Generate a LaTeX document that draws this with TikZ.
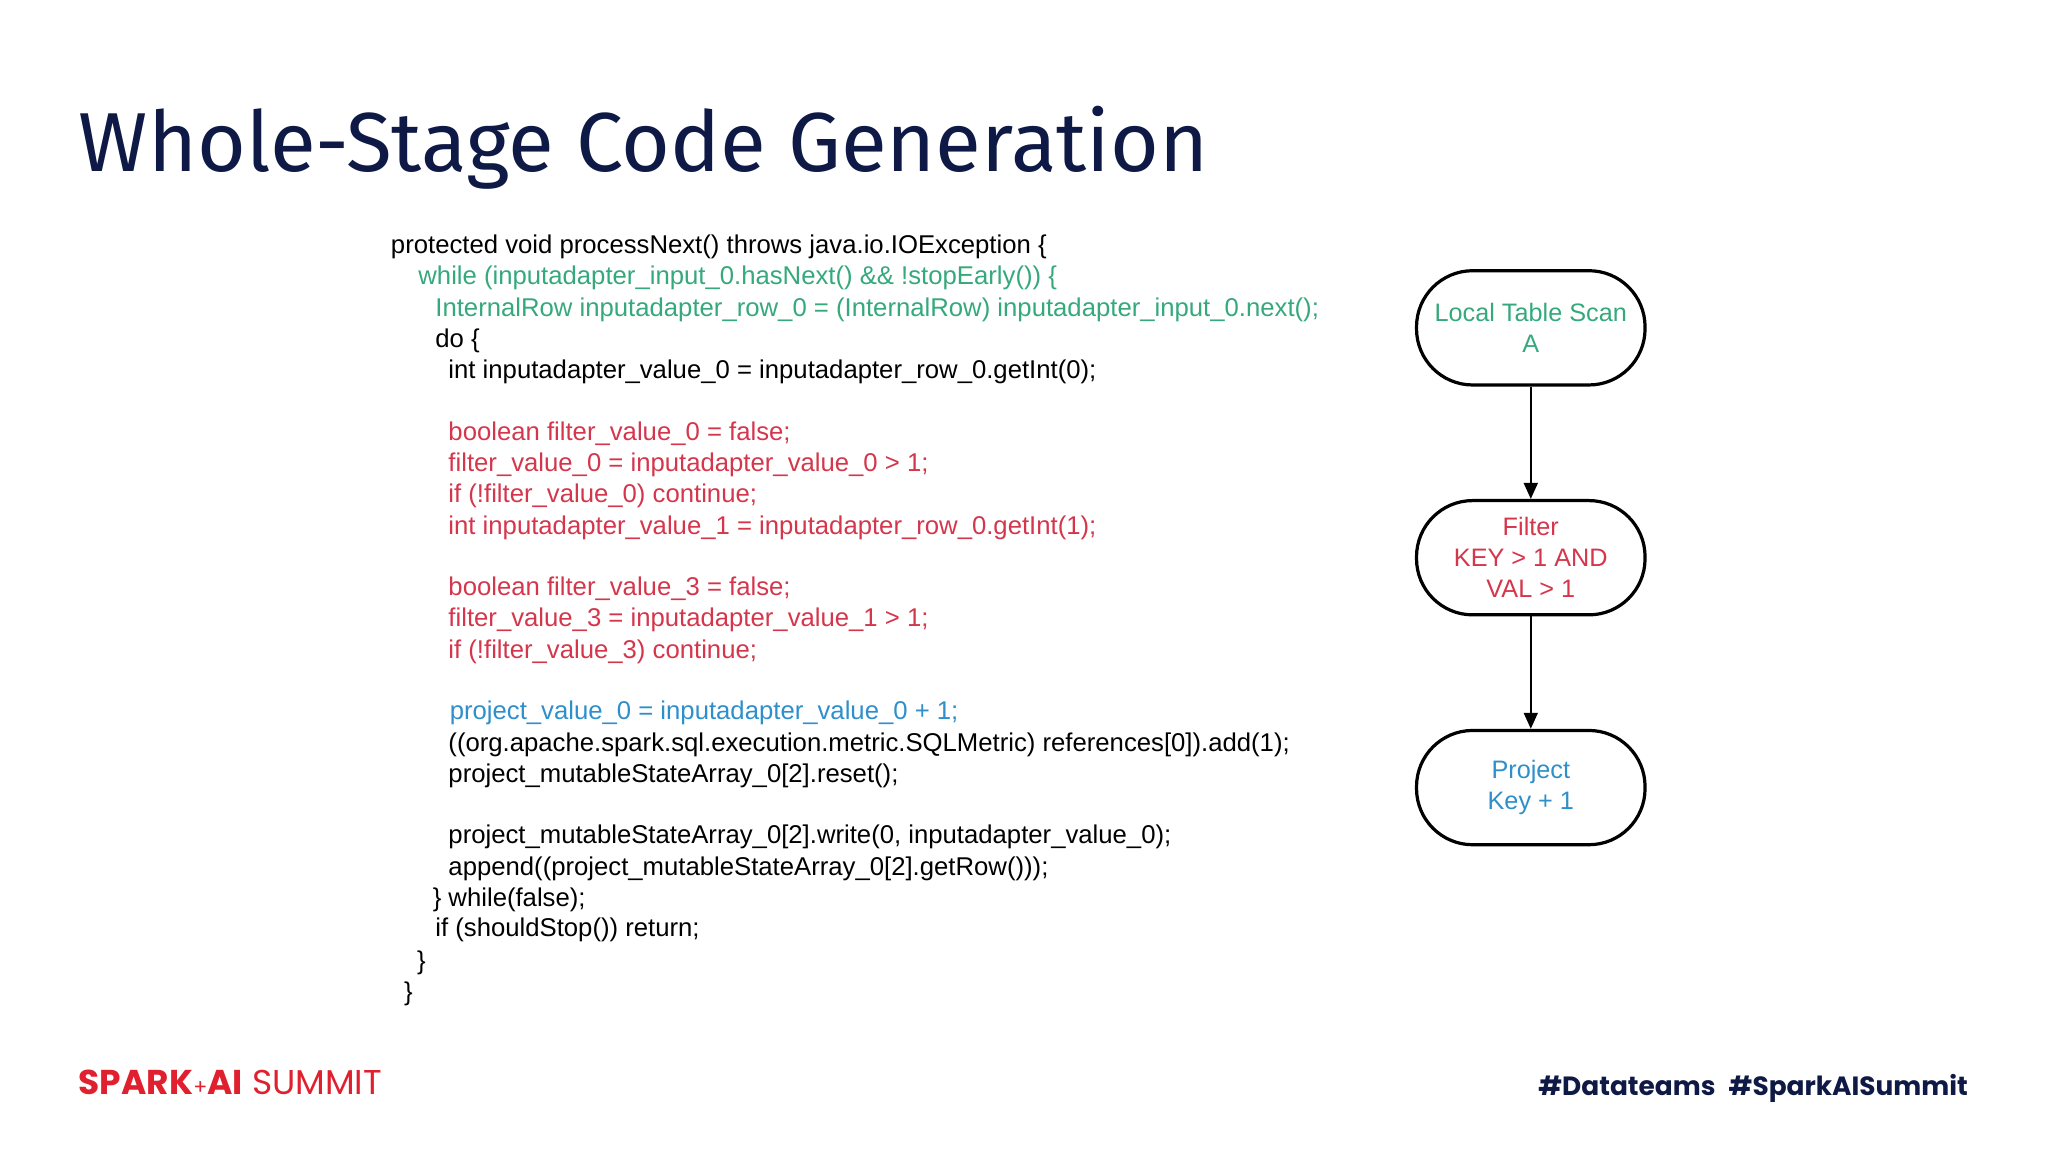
\documentclass[tikz,border=0pt]{standalone}
\usepackage{fontspec}
\setmainfont{Liberation Sans}
\newfontfamily\titlefont{Fira Sans}
\newfontfamily\footfont{Poppins}
\usetikzlibrary{arrows.meta}
\definecolor{navy}{HTML}{0E1A45}
\definecolor{cgreen}{HTML}{35A97C}
\definecolor{cred}{HTML}{D4364C}
\definecolor{cblue}{HTML}{2E8FCB}
\definecolor{sred}{HTML}{E0202E}
\tikzset{
  code/.style={anchor=base west,inner sep=0pt,font=\fontsize{11.2}{13}\selectfont,text=black},
  flow/.style={draw=black,line width=1.4pt,rounded corners=0.86cm,minimum width=3.5cm,minimum height=1.75cm,align=center,font=\fontsize{11}{13.5}\selectfont},
  arr/.style={line width=1.1pt,-{Triangle[length=7pt,width=6pt]}}
}
\begin{document}
\begin{tikzpicture}[x=0.02cm,y=-0.02cm]
\useasboundingbox (0,0) rectangle (1568,882);
\node[anchor=base west,inner sep=0pt,text=navy,font=\titlefont\fontsize{36.5}{40}\selectfont] (title) at (60,131) {Whole-Stage Code Generation};
\node[code] (l1) at (299,194) {protected void processNext() throws java.io.IOException \{};
\node[code,text=cgreen] (l2) at (320,218) {while (inputadapter\_input\_0.hasNext() \&\& !stopEarly()) \{};
\node[code,text=cgreen] (l3) at (333,242) {InternalRow inputadapter\_row\_0 = (InternalRow) inputadapter\_input\_0.next();};
\node[code] (l4) at (333,266) {do \{};
\node[code] (l5) at (343,290) {int inputadapter\_value\_0 = inputadapter\_row\_0.getInt(0);};
\node[code,text=cred] (l6) at (343,337) {boolean filter\_value\_0 = false;};
\node[code,text=cred] (l7) at (343,361) {filter\_value\_0 = inputadapter\_value\_0 > 1;};
\node[code,text=cred] (l8) at (343,385) {if (!filter\_value\_0) continue;};
\node[code,text=cred] (l9) at (343,409) {int inputadapter\_value\_1 = inputadapter\_row\_0.getInt(1);};
\node[code,text=cred] (l10) at (343,456) {boolean filter\_value\_3 = false;};
\node[code,text=cred] (l11) at (343,480) {filter\_value\_3 = inputadapter\_value\_1 > 1;};
\node[code,text=cred] (l12) at (343,504) {if (!filter\_value\_3) continue;};
\node[code,text=cblue] (l13) at (344,551) {project\_value\_0 = inputadapter\_value\_0 + 1;};
\node[code] (l14) at (343,575) {((org.apache.spark.sql.execution.metric.SQLMetric) references[0]).add(1);};
\node[code] (l15) at (343,599) {project\_mutableStateArray\_0[2].reset();};
\node[code] (l16) at (343,646) {project\_mutableStateArray\_0[2].write(0, inputadapter\_value\_0);};
\node[code] (l17) at (343,670) {append((project\_mutableStateArray\_0[2].getRow()));};
\node[code] (l18) at (331,694) {\} while(false);};
\node[code] (l19) at (333,717) {if (shouldStop()) return;};
\node[code] (l20) at (319,742) {\}};
\node[code] (l21) at (309,766) {\}};
\node[flow,text=cgreen] (scan) at (1172,251) {Local Table Scan\\A};
\node[flow,text=cred] (filter) at (1172,427) {Filter\\KEY > 1 AND\\VAL > 1};
\node[flow,text=cblue] (proj) at (1172,603) {Project\\Key + 1};
\draw[arr] (scan) -- (filter);
\draw[arr] (filter) -- (proj);
\node[anchor=base west,inner sep=0pt,font=\footfont\fontsize{15}{18}\selectfont,text=sred] (logo) at (60,838) {\textbf{SPARK}{\fontsize{9}{9}\selectfont+}\textbf{AI} SUMMIT};
\node[anchor=base east,inner sep=0pt,font=\footfont\bfseries\fontsize{11.5}{14}\selectfont,text=navy] (tags) at (1507,839) {\#Datateams\enspace\#SparkAISummit};
\end{tikzpicture}
\end{document}
